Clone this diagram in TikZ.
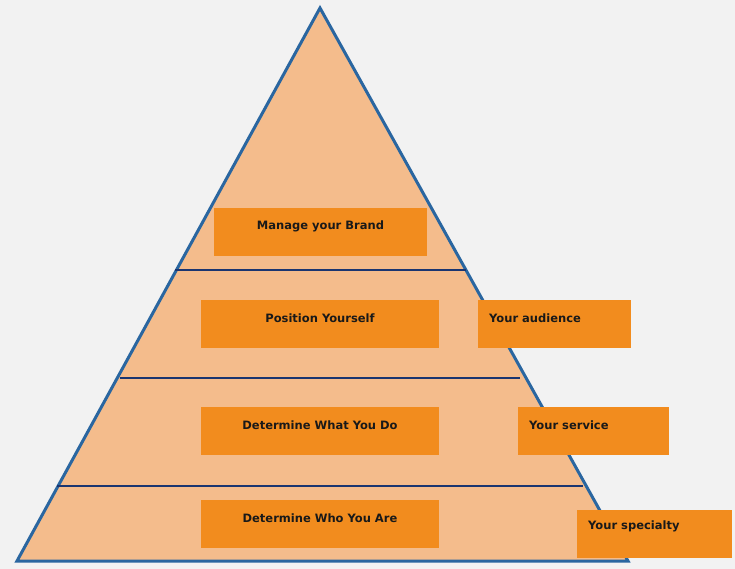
\documentclass[tikz,border=0pt]{standalone}
\usepackage{fontspec}
\setmainfont{DejaVu Sans}
\definecolor{bg}{HTML}{F2F2F2}
\definecolor{peach}{HTML}{F4BC8C}
\definecolor{edge}{HTML}{2A66A0}
\definecolor{navy}{HTML}{1A3570}
\definecolor{org}{HTML}{F28C1E}
\begin{document}
\begin{tikzpicture}[x=1pt,y=-1pt,
  box/.style={fill=org,draw=none},
  lab/.style={font=\bfseries\fontsize{11.5}{13}\selectfont,text=black!90,inner sep=0pt},
  divl/.style={draw=navy,line width=2.6pt}]
\fill[bg] (0,0) rectangle (735,569);
\useasboundingbox (0,0) rectangle (735,569);
\coordinate (apex) at (320,8);
\coordinate (bl) at (17,561);
\coordinate (br) at (628,561);
\draw[fill=peach,draw=edge,line width=3pt,line join=miter] (apex) -- (br) -- (bl) -- cycle;
\coordinate (l1a) at (175,270); \coordinate (l1b) at (466,270);
\coordinate (l2a) at (120,378); \coordinate (l2b) at (520,378);
\coordinate (l3a) at (57,486); \coordinate (l3b) at (583,486);
\draw[divl] (l1a) -- (l1b);
\draw[divl] (l2a) -- (l2b);
\draw[divl] (l3a) -- (l3b);
\fill[box] (214,208) rectangle (427,256);
\node[lab] (t1) at (320.5,226) {Manage your Brand};
\fill[box] (201,300) rectangle (439,348);
\node[lab] (t2) at (320,318) {Position Yourself};
\fill[box] (478,300) rectangle (631,348);
\node[lab,anchor=west] (t3) at (489,318) {Your audience};
\fill[box] (201,407) rectangle (439,455);
\node[lab] (t4) at (320,425) {Determine What You Do};
\fill[box] (518,407) rectangle (669,455);
\node[lab,anchor=west] (t5) at (529,425) {Your service};
\fill[box] (201,500) rectangle (439,548);
\node[lab] (t6) at (320,518) {Determine Who You Are};
\fill[box] (577,510) rectangle (732,558);
\node[lab,anchor=west] (t7) at (588,526) {Your specialty};
\end{tikzpicture}
\end{document}
